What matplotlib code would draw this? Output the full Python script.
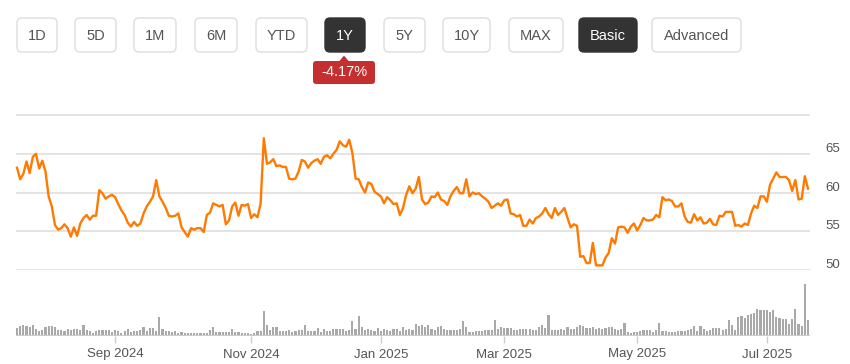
import numpy as np
import pandas as pd
import matplotlib
matplotlib.use("Agg")
import matplotlib.pyplot as plt
from matplotlib.patches import FancyBboxPatch, Polygon
from matplotlib.transforms import offset_copy, blended_transform_factory

plt.rcParams['font.family'] = ['Liberation Sans', 'DejaVu Sans']

# daily closing prices, one per trading day
price_h1 = [
    63.2, 61.7, 62.4, 64.0, 62.5, 64.6, 65.0, 63.1, 64.1, 62.7,
    59.5, 58.2, 55.8, 55.2, 55.4, 55.9, 55.4, 54.3, 55.5, 54.4,
    56.0, 56.7, 57.1, 56.5, 57.0, 57.0, 60.3, 59.9, 59.2, 59.5,
    59.7, 59.4, 58.5, 57.7, 57.1, 56.1, 55.6, 56.2, 55.7, 56.0,
    57.3, 58.2, 58.8, 59.5, 61.6, 59.5, 58.8, 58.0, 57.0, 56.9,
    57.0, 57.3, 55.5, 54.9, 54.3, 55.4, 55.2, 55.4, 55.4, 54.9,
    57.1, 57.4, 58.6, 58.4, 58.2, 58.4, 55.9, 56.4, 58.2, 58.7,
    57.0, 58.4, 58.3, 58.5, 56.7, 57.2, 56.8, 58.6, 67.0, 63.7,
    63.9, 64.3, 63.4, 63.5, 63.3, 63.3, 61.8, 61.7, 61.8, 62.7,
    64.2, 64.0, 63.2, 63.8, 64.1, 64.3, 63.7, 64.6, 64.8, 64.4,
    65.0, 65.5, 66.6, 66.1, 65.9, 66.8, 65.1, 61.8, 61.7, 60.7,
    60.0, 61.3, 61.1, 60.1, 59.8, 59.5, 58.6, 59.4, 59.0, 58.5,
    58.6, 57.1, 58.0, 59.7, 60.8, 59.9, 60.5, 62.0,
]
price_h2 = [
    59.1, 58.5, 58.7, 59.5, 59.4, 60.0, 59.1, 58.9, 58.4, 59.5,
    60.2, 60.7, 59.9, 59.9, 61.7, 59.5, 60.0, 59.8, 59.9, 59.5,
    59.2, 58.8, 58.0, 58.3, 58.6, 58.3, 59.0, 59.1, 57.3, 57.2,
    56.9, 57.1, 55.7, 55.7, 56.5, 56.0, 56.7, 56.9, 57.3, 58.0,
    57.2, 56.7, 58.0, 57.1, 57.5, 58.0, 56.7, 55.5, 55.9, 55.7,
    51.7, 51.8, 50.9, 50.9, 53.5, 50.6, 50.6, 50.6, 51.6, 52.2,
    54.1, 53.4, 55.5, 55.6, 55.5, 54.8, 55.6, 56.0, 55.1, 55.8,
    56.7, 56.4, 56.4, 56.5, 57.1, 56.8, 59.4, 59.0, 59.1, 58.9,
    58.2, 58.2, 58.6, 56.9, 56.2, 56.1, 57.2, 56.4, 56.8, 56.0,
    56.1, 56.6, 55.9, 55.8, 57.0, 56.9, 57.5, 57.5, 57.5, 55.7,
    55.8, 55.6, 56.0, 55.8, 57.3, 58.3, 58.0, 59.5, 59.5, 58.8,
    61.0, 61.8, 62.6, 62.0, 62.0, 62.0, 61.6, 60.2, 61.6, 59.1,
    59.2, 62.1, 60.5,
]

# daily volume (relative units)
vol_a = [
    8.3, 9.7, 10.7, 10.3, 9.0, 11.3, 7.3, 5.3, 6.3, 8.7,
    9.7, 10.0, 9.0, 6.3, 6.3, 5.3, 7.3, 6.0, 7.0, 7.3,
    6.3, 11.3, 5.7, 4.7, 3.3, 4.7, 6.0, 6.3, 6.0, 6.0,
    4.0, 6.0, 5.3, 3.3, 4.7, 6.7, 4.0, 5.3, 5.0, 6.3,
    9.0, 4.7, 8.3, 8.0, 4.7, 18.7, 7.0, 4.7, 5.3, 4.0,
    5.0, 3.3, 4.0, 3.3, 2.7, 2.7, 2.7, 2.7, 3.0, 2.7,
    2.7, 5.7, 8.7, 4.0,
]
vol_b = [
    4.0, 4.0, 4.0, 4.0, 6.7, 4.0, 4.0, 2.7, 2.7, 3.0,
    2.3, 3.0, 4.7, 5.3, 25.3, 11.3, 6.3, 9.0, 9.0, 5.3,
    5.3, 4.7, 5.7, 4.3, 4.7, 6.0, 6.3, 11.3, 5.3, 4.7,
    5.3, 7.7, 4.0, 6.7, 5.3, 5.3, 6.7, 7.3, 7.0, 7.3,
    4.7, 6.0, 15.0, 7.3, 20.0, 8.7, 5.7, 6.7, 6.3, 5.3,
    7.7, 5.3, 6.7, 6.3, 5.3, 7.3, 6.7, 5.3, 8.7, 6.0,
    7.3, 6.0, 12.3,
]
vol_c = [
    10.0, 10.7, 9.0, 10.7, 6.7, 6.0, 9.0, 10.0, 7.3, 6.0,
    6.5, 6.3, 6.0, 7.3, 15.0, 8.7, 4.0, 4.0, 4.7, 4.7,
    5.3, 6.0, 6.0, 5.7, 16.3, 6.7, 8.7, 8.0, 8.0, 8.0,
    6.3, 6.0, 7.3, 7.3, 7.0, 7.0, 6.0, 6.0, 8.7, 10.7,
    7.7, 21.3, 6.5, 6.3, 6.3, 7.3, 6.0, 8.7, 7.0, 6.7,
    8.7, 10.7, 10.0, 8.0, 8.0, 8.7, 7.3, 8.0, 7.3, 8.0,
    8.7, 9.3, 7.3,
]
vol_d = [
    5.7, 6.7, 13.3, 4.0, 3.3, 4.0, 4.0, 4.7, 5.7, 6.3,
    6.3, 3.7, 5.7, 13.3, 5.0, 4.7, 4.0, 3.7, 4.0, 4.7,
    5.0, 5.0, 5.7, 6.7, 9.7, 5.0, 9.7, 7.3, 4.7, 6.3,
    8.0, 8.3, 8.3, 6.3, 6.7, 16.3, 10.7, 6.3, 19.0, 20.0,
    18.0, 21.0, 22.3, 23.0, 27.3, 25.7, 26.3, 26.3, 24.0, 26.3,
    19.0, 18.0, 17.3, 16.7, 11.7, 17.3, 26.7, 12.3, 10.0, 51.7,
    16.3,
]

market_holidays = ["2024-09-02", "2024-11-28", "2024-12-25", "2025-01-01",
                   "2025-01-09", "2025-01-20", "2025-02-17", "2025-04-18",
                   "2025-05-26", "2025-06-19", "2025-07-04"]
last_day = "2025-07-21"

y_labels = [50, 55, 60, 65]
grid_levels = [50, 55, 60, 65, 70]

range_buttons = ["1D", "5D", "1M", "6M", "YTD", "1Y", "5Y", "10Y", "MAX", "Basic", "Advanced"]
active_buttons = ["1Y", "Basic"]
change_text = "-4.17%"

price = np.array(price_h1 + price_h2)
volume = np.array(vol_a + vol_b + vol_c + vol_d)
n = len(price)
x = np.arange(n)

dates = pd.date_range(end=last_day, periods=n,
                      freq=pd.offsets.CustomBusinessDay(holidays=market_holidays))
months = dates.month.values
new_month = np.r_[False, months[1:] != months[:-1]] & (months % 2 == 1)
tick_idx = np.where(new_month)[0]
tick_text = [d.strftime("%b %Y") for d in dates[tick_idx]]

W, H = 850, 364
fig = plt.figure(figsize=(W / 100, H / 100), dpi=100)


def box(x0, y0, x1, y1):
    return [x0 / W, 1 - y1 / H, (x1 - x0) / W, (y1 - y0) / H]


grid_col = "#e2e2e2"
text_col = "#555555"
xlim = (-0.32, n - 1 + 0.63)

# price panel
ax = fig.add_axes(box(16, 112, 810, 270))
ax.plot(x, price, color="#ff7a00", lw=1.7, solid_joinstyle="round", clip_on=False, zorder=3)
for g in grid_levels:
    ax.axhline(g, color=grid_col, lw=1.3, zorder=0)
ax.set_xlim(*xlim)
ax.set_ylim(50, 50 + 158 / 7.75)
ax.set_xticks([])
ax.set_yticks([])
for s in ax.spines.values():
    s.set_visible(False)
trans = offset_copy(blended_transform_factory(ax.transAxes, ax.transData), fig=fig, x=15, y=5, units="dots")
for v in y_labels:
    ax.text(1, v, str(v), transform=trans, ha="left", va="center", fontsize=9.5, color=text_col)

# volume panel
axv = fig.add_axes(box(16, 270, 810, 336))
axv.bar(x, volume, width=0.68, color="#a9a9a9", zorder=2)
axv.axhline(0, color="#cccccc", lw=1.5, zorder=3)
axv.set_xlim(*xlim)
axv.set_ylim(0, 66)
axv.set_yticks([])
axv.set_xticks(tick_idx)
axv.set_xticklabels(tick_text)
axv.tick_params(axis="x", length=5, width=1, color="#cccccc", labelsize=9.5, labelcolor=text_col, pad=4)
for s in axv.spines.values():
    s.set_visible(False)

# range selector buttons
ov = fig.add_axes([0, 0, 1, 1])
ov.set_xlim(0, W)
ov.set_ylim(H, 0)
ov.axis("off")
btn_x = [(17, 57), (75, 116), (134, 176), (195, 237), (256, 307), (325, 365),
         (384, 425), (443, 490), (509, 563), (579, 637), (652, 741)]
for label, (x0, x1) in zip(range_buttons, btn_x):
    on = label in active_buttons
    ov.add_patch(FancyBboxPatch((x0, 18), x1 - x0, 34, boxstyle="round,pad=0,rounding_size=5",
                                facecolor="#333333" if on else "white",
                                edgecolor="#333333" if on else "#dddddd", lw=1))
    ov.text((x0 + x1) / 2, 35.5, label, ha="center", va="center", fontsize=10.5,
            color="white" if on else text_col)

# change badge under the active range
bx = (313, 375)
ov.add_patch(FancyBboxPatch((bx[0], 61), bx[1] - bx[0], 23, boxstyle="round,pad=0,rounding_size=3",
                            facecolor="#c4302f", edgecolor="none"))
cx = (bx[0] + bx[1]) / 2
ov.add_patch(Polygon([(cx - 5, 61.5), (cx, 55.5), (cx + 5, 61.5)], closed=True,
                     facecolor="#c4302f", edgecolor="none"))
ov.text(cx, 72.5, change_text, ha="center", va="center", fontsize=10.5, color="white")

fig.savefig("out.png", dpi=100)
